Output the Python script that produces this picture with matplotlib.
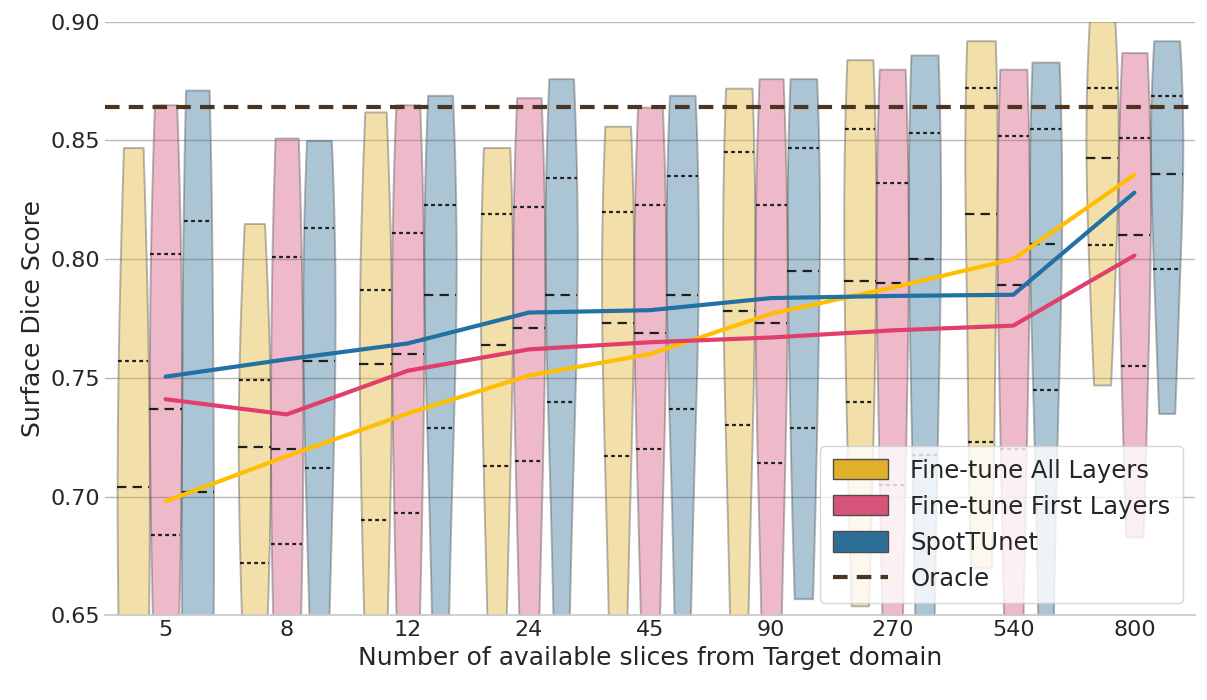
import matplotlib
matplotlib.use("Agg")
import matplotlib.pyplot as plt
from matplotlib.lines import Line2D
from matplotlib.patches import Patch
import numpy as np
import pandas as pd
import seaborn as sns

categories = ["5", "8", "12", "24", "45", "90", "270", "540", "800"]
methods = ["Fine-tune All Layers", "Fine-tune First Layers", "SpotTUnet"]
colors = ["#E0B02A", "#D65479", "#2D6E96"]
line_colors = ["#FFBE00", "#E23E6C", "#2271A2"]
oracle_score = 0.864

# five-number summary (min, q1, median, q3, max)
all_lo = [0.56, 0.60, 0.60, 0.62, 0.62, 0.62, 0.654, 0.670, 0.747]
all_q1 = [0.640, 0.672, 0.690, 0.713, 0.717, 0.730, 0.740, 0.723, 0.806]
all_med = [0.704, 0.721, 0.756, 0.764, 0.773, 0.778, 0.791, 0.819, 0.8425]
all_q3 = [0.757, 0.749, 0.787, 0.819, 0.820, 0.845, 0.855, 0.872, 0.872]
all_hi = [0.847, 0.815, 0.862, 0.847, 0.856, 0.872, 0.884, 0.892, 0.910]

first_lo = [0.60, 0.60, 0.61, 0.62, 0.62, 0.61, 0.60, 0.61, 0.683]
first_q1 = [0.684, 0.680, 0.693, 0.715, 0.720, 0.714, 0.705, 0.720, 0.755]
first_med = [0.737, 0.720, 0.760, 0.771, 0.769, 0.773, 0.790, 0.789, 0.810]
first_q3 = [0.802, 0.801, 0.811, 0.822, 0.823, 0.823, 0.832, 0.852, 0.851]
first_hi = [0.865, 0.851, 0.865, 0.868, 0.864, 0.876, 0.880, 0.880, 0.887]

spot_lo = [0.57, 0.62, 0.62, 0.63, 0.63, 0.657, 0.61, 0.62, 0.735]
spot_q1 = [0.640, 0.712, 0.729, 0.740, 0.737, 0.729, 0.7175, 0.745, 0.796]
spot_med = [0.702, 0.757, 0.785, 0.785, 0.785, 0.795, 0.800, 0.8065, 0.836]
spot_q3 = [0.816, 0.813, 0.823, 0.834, 0.835, 0.847, 0.853, 0.855, 0.8685]
spot_hi = [0.871, 0.850, 0.869, 0.876, 0.869, 0.876, 0.886, 0.883, 0.892]

# mean curves
all_mean = [0.698, 0.717, 0.735, 0.751, 0.760, 0.777, 0.788, 0.800, 0.8355]
first_mean = [0.741, 0.7346, 0.753, 0.762, 0.765, 0.767, 0.770, 0.772, 0.8015]
spot_mean = [0.7505, 0.7578, 0.7645, 0.7775, 0.7785, 0.7836, 0.7845, 0.785, 0.828]

summaries = {
    methods[0]: [all_lo, all_q1, all_med, all_q3, all_hi],
    methods[1]: [first_lo, first_q1, first_med, first_q3, first_hi],
    methods[2]: [spot_lo, spot_q1, spot_med, spot_q3, spot_hi],
}
means = [all_mean, first_mean, spot_mean]

rows = []
for method, stats in summaries.items():
    for i, cat in enumerate(categories):
        for s in stats:
            rows.append({"slices": cat, "method": method, "score": s[i]})
df = pd.DataFrame(rows)

sns.set_style("whitegrid")
plt.rcParams["font.family"] = ["DejaVu Sans"]

fig = plt.figure(figsize=(12.07, 7.0), dpi=100)
ax = fig.add_axes([0.087, 0.121, 0.903, 0.848])

sns.violinplot(
    data=df, x="slices", y="score", hue="method", order=categories,
    hue_order=methods, palette=colors, saturation=1, inner="quart",
    cut=0, density_norm="width", bw_adjust=1.05, width=0.8,
    linewidth=1.4, linecolor="0.3", alpha=0.4,
    inner_kws=dict(color="0.12", linewidth=1.6),
    legend=False, ax=ax,
)
# quartile lines: q1 / median / q3 per violin, median with longer dashes
for k, ln in enumerate(ax.lines):
    if k % 3 == 1:
        ln.set_dashes([4.2, 2.8])
    else:
        ln.set_dashes([1.7, 1.5])

x = np.arange(len(categories))
for m, c in zip(means, line_colors):
    ax.plot(x, m, color=c, linewidth=3.0, zorder=5)
ax.axhline(oracle_score, color="#4A3520", linestyle=(0, (3.5, 2.2)), linewidth=3.0, zorder=6)

ax.set_ylim(0.65, 0.90)
ax.set_xlim(-0.5, len(categories) - 0.5)
ax.set_yticks([0.65, 0.70, 0.75, 0.80, 0.85, 0.90])
ax.set_yticklabels(["0.65", "0.70", "0.75", "0.80", "0.85", "0.90"])
ax.tick_params(axis="both", labelsize=16, length=0)
ax.grid(axis="x", visible=False)
ax.grid(axis="y", color="0.72", linewidth=1.0)
ax.set_xlabel("Number of available slices from Target domain", fontsize=18)
ax.set_ylabel("Surface Dice Score", fontsize=18)
for side in ["left", "top", "right"]:
    ax.spines[side].set_visible(False)
ax.spines["bottom"].set_color("0.8")
ax.spines["bottom"].set_linewidth(1.3)

handles = [Patch(facecolor=c, edgecolor="0.3", label=m) for m, c in zip(methods, colors)]
handles.append(Line2D([], [], color="#4A3520", linestyle=(0, (3.5, 2.2)), linewidth=3.0, label="Oracle"))
ax.legend(handles=handles, loc="lower right", fontsize=17.5, handlelength=2.3,
          handleheight=0.9, framealpha=0.8, borderpad=0.5, labelspacing=0.5,
          handletextpad=0.9)

fig.savefig("out.png", dpi=100)
